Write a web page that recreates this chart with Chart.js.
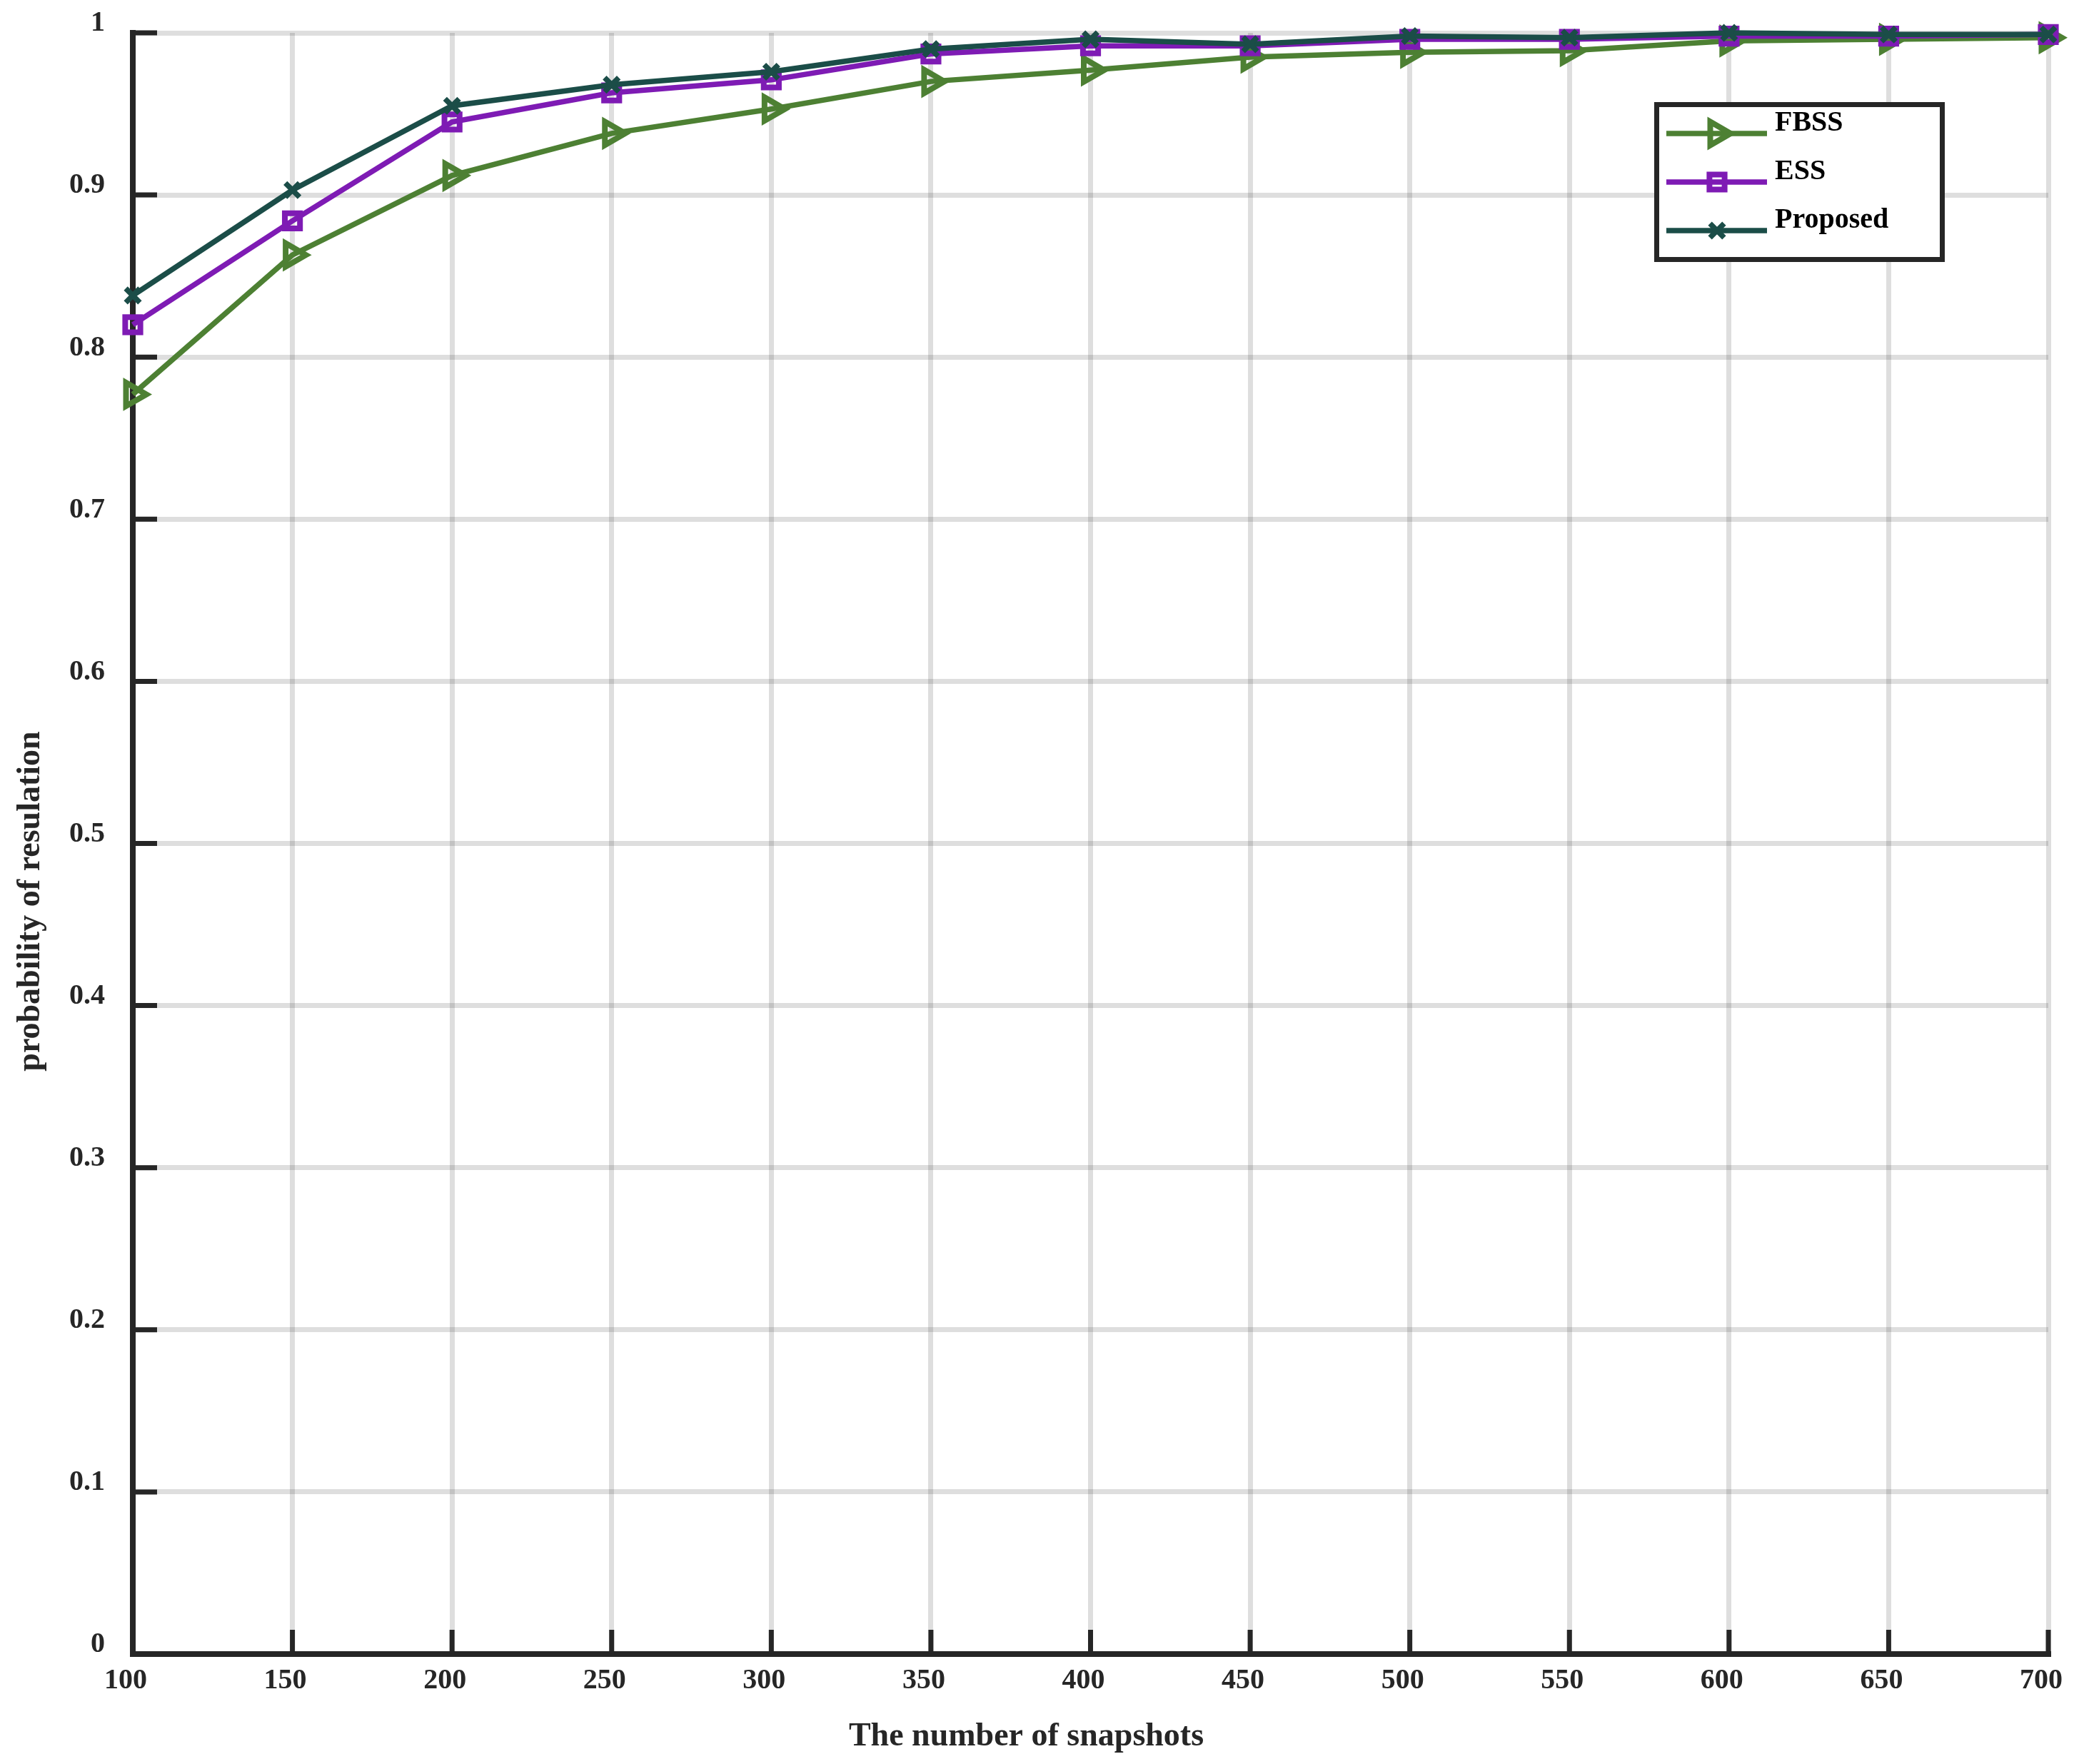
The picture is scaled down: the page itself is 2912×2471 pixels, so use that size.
<!DOCTYPE html>
<html>
<head>
<meta charset="utf-8">
<script src="https://cdn.jsdelivr.net/npm/chart.js@4.4.1/dist/chart.umd.min.js"></script>
<style>
  html, body { margin: 0; padding: 0; background: #fff; }
  #wrap { width: 2912px; height: 2471px; }
</style>
</head>
<body>
<div id="wrap"><canvas id="chart"></canvas></div>
<script>
// values
const snapshots = [100, 150, 200, 250, 300, 350, 400, 450, 500, 550, 600, 650, 700];
const fbss = [0.777, 0.863, 0.912, 0.938, 0.953, 0.970, 0.977, 0.985, 0.988, 0.989, 0.995, 0.996, 0.997];
const ess = [0.820, 0.884, 0.945, 0.963, 0.971, 0.987, 0.992, 0.992, 0.996, 0.996, 0.998, 0.998, 0.999];
const proposed = [0.838, 0.903, 0.955, 0.968, 0.976, 0.990, 0.996, 0.993, 0.998, 0.997, 1.000, 0.999, 0.999];

const xTicks = [100, 150, 200, 250, 300, 350, 400, 450, 500, 550, 600, 650, 700];
const yTicks = [0, 0.1, 0.2, 0.3, 0.4, 0.5, 0.6, 0.7, 0.8, 0.9, 1];
const yTickLabels = ['0', '0.1', '0.2', '0.3', '0.4', '0.5', '0.6', '0.7', '0.8', '0.9', '1'];

const xTitle = 'The number of snapshots';
const yTitle = 'probability of resulation';

const axisColor = '#262626';
const gridColor = 'rgba(0,0,0,0.13)';
const serif = "'Liberation Serif', 'Times New Roman', serif";

const green = '#4d8033';
const purple = '#7e1bb4';
const teal = '#1b4d48';

function points(ys) {
  return snapshots.map((x, i) => ({ x: x, y: ys[i] }));
}

// matlab style ticks pointing into the plot
const innerTicks = {
  id: 'innerTicks',
  beforeDatasetsDraw(chart) {
    const { ctx, chartArea, scales } = chart;
    ctx.save();
    ctx.strokeStyle = axisColor;
    ctx.lineWidth = 7;
    ctx.beginPath();
    scales.x.ticks.forEach(t => {
      const px = scales.x.getPixelForValue(t.value);
      ctx.moveTo(px, chartArea.bottom);
      ctx.lineTo(px, chartArea.bottom - 34);
    });
    scales.y.ticks.forEach(t => {
      const py = scales.y.getPixelForValue(t.value);
      ctx.moveTo(chartArea.left, py);
      ctx.lineTo(chartArea.left + 34, py);
    });
    ctx.stroke();
    ctx.restore();
  }
};

const axisTitles = {
  id: 'axisTitles',
  afterDraw(chart) {
    const { ctx, chartArea } = chart;
    ctx.save();
    ctx.fillStyle = axisColor;
    ctx.font = 'bold 46px ' + serif;
    ctx.textAlign = 'center';
    ctx.textBaseline = 'alphabetic';
    ctx.fillText(xTitle, (chartArea.left + chartArea.right) / 2 - 90, chartArea.bottom + 128);
    ctx.translate(chartArea.left - 131, (chartArea.top + chartArea.bottom) / 2 + 81);
    ctx.rotate(-Math.PI / 2);
    ctx.fillText(yTitle, 0, 0);
    ctx.restore();
  }
};

// legend box in the upper right, line sample + marker + name
const boxLegend = {
  id: 'boxLegend',
  afterDraw(chart) {
    const { ctx } = chart;
    const x0 = 2320.5, y0 = 146.5, w = 400, h = 217;
    ctx.save();
    ctx.fillStyle = '#fff';
    ctx.fillRect(x0, y0, w, h);
    ctx.strokeStyle = axisColor;
    ctx.lineWidth = 7;
    ctx.strokeRect(x0, y0, w, h);

    chart.data.datasets.forEach((ds, row) => {
      const cy = 187 + row * 68;
      ctx.strokeStyle = ds.borderColor;
      ctx.lineWidth = ds.borderWidth;
      ctx.beginPath();
      ctx.moveTo(2334, cy);
      ctx.lineTo(2475, cy);
      ctx.stroke();

      ctx.fillStyle = 'rgba(0,0,0,0)';
      ctx.lineWidth = ds.pointBorderWidth;
      Chart.helpers.drawPoint(ctx, {
        pointStyle: ds.pointStyle,
        rotation: ds.pointRotation || 0,
        radius: ds.pointRadius,
        borderWidth: ds.pointBorderWidth
      }, 2405, cy);

      ctx.fillStyle = '#000';
      ctx.font = 'bold 40px ' + serif;
      ctx.textAlign = 'left';
      ctx.textBaseline = 'alphabetic';
      ctx.fillText(ds.label, 2486, cy - 4);
    });
    ctx.restore();
  }
};

new Chart(document.getElementById('chart'), {
  type: 'line',
  data: {
    datasets: [
      {
        label: 'FBSS',
        data: points(fbss),
        borderColor: green,
        borderWidth: 7.5,
        pointStyle: 'triangle',
        pointRotation: 90,
        pointRadius: 19,
        pointBorderWidth: 8,
        pointBorderColor: green,
        pointBackgroundColor: 'rgba(0,0,0,0)',
        tension: 0,
        clip: false,
        order: 3
      },
      {
        label: 'ESS',
        data: points(ess),
        borderColor: purple,
        borderWidth: 7.5,
        pointStyle: 'rect',
        pointRadius: 15,
        pointBorderWidth: 8,
        pointBorderColor: purple,
        pointBackgroundColor: 'rgba(0,0,0,0)',
        tension: 0,
        clip: false,
        order: 2
      },
      {
        label: 'Proposed',
        data: points(proposed),
        borderColor: teal,
        borderWidth: 7.5,
        pointStyle: 'crossRot',
        pointRadius: 14,
        pointBorderWidth: 7.5,
        pointBorderColor: teal,
        pointBackgroundColor: teal,
        tension: 0,
        clip: false,
        order: 1
      }
    ]
  },
  options: {
    responsive: true,
    maintainAspectRatio: false,
    animation: false,
    devicePixelRatio: 1,
    layout: { padding: { top: 46, right: 43, left: 0, bottom: 0 } },
    plugins: {
      legend: { display: false },
      tooltip: { enabled: false }
    },
    scales: {
      x: {
        type: 'linear',
        min: 100,
        max: 700,
        afterBuildTicks: s => { s.ticks = xTicks.map(v => ({ value: v })); },
        afterFit: s => { s.height = 154; s.paddingLeft = 0; s.paddingRight = 0; },
        grid: { color: gridColor, lineWidth: 7, drawTicks: false },
        border: { display: true, color: axisColor, width: 8 },
        ticks: {
          color: axisColor,
          padding: 14,
          labelOffset: -10,
          maxRotation: 0,
          autoSkip: false,
          font: { family: serif, size: 40, weight: 'bold' },
          callback: v => String(v)
        }
      },
      y: {
        min: 0,
        max: 1,
        afterBuildTicks: s => { s.ticks = yTicks.map(v => ({ value: v })); },
        afterFit: s => { s.width = 186; s.paddingTop = 0; s.paddingBottom = 0; },
        grid: { color: gridColor, lineWidth: 7, drawTicks: false },
        border: { display: true, color: axisColor, width: 8 },
        ticks: {
          color: axisColor,
          padding: 39,
          labelOffset: -13,
          autoSkip: false,
          font: { family: serif, size: 40, weight: 'bold' },
          callback: (v, i) => yTickLabels[i]
        }
      }
    }
  },
  plugins: [innerTicks, axisTitles, boxLegend]
});
</script>
</body>
</html>
